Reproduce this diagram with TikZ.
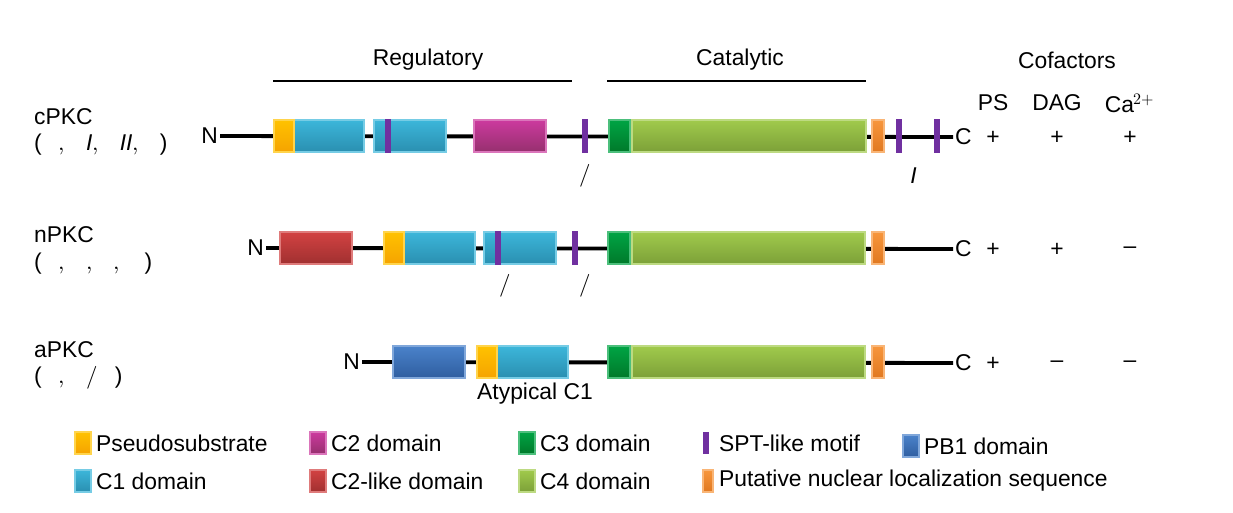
\documentclass[tikz,border=0pt]{standalone}
\usepackage{fontspec}
\setmainfont{Liberation Sans}
\usepackage{unicode-math}
\setmathfont{Latin Modern Math}
\definecolor{ylw}{HTML}{FFC200}\definecolor{ylwd}{HTML}{F5A300}
\definecolor{cone}{HTML}{3CB6DA}\definecolor{coned}{HTML}{2A8FB0}
\definecolor{ctwo}{HTML}{CC3A9E}\definecolor{ctwod}{HTML}{96306E}
\definecolor{cthr}{HTML}{00A444}\definecolor{cthrd}{HTML}{00792A}
\definecolor{cfour}{HTML}{A0CA4C}\definecolor{cfourd}{HTML}{7CA038}
\definecolor{org}{HTML}{F7963C}\definecolor{orgd}{HTML}{E07820}
\definecolor{rd}{HTML}{D24242}\definecolor{rdd}{HTML}{A03030}
\definecolor{pb}{HTML}{4A82CA}\definecolor{pbd}{HTML}{2F5EA0}
\definecolor{purp}{HTML}{7030A0}
\tikzset{
 txt/.style={font=\fontsize{13}{15}\selectfont},
 Y/.style={top color=ylw,bottom color=ylwd,draw=ylw!70!white},
 C1/.style={top color=cone,bottom color=coned,draw=cone!70!white},
 C2/.style={top color=ctwo,bottom color=ctwod,draw=ctwo!70!white},
 C3/.style={top color=cthr,bottom color=cthrd,draw=cthr!70!white},
 C4/.style={top color=cfour,bottom color=cfourd,draw=cfour!70!white},
 O/.style={top color=org,bottom color=orgd,draw=org!70!white},
 R/.style={top color=rd,bottom color=rdd,draw=rd!70!white},
 P/.style={top color=pb,bottom color=pbd,draw=pb!70!white},
 bb/.style={line width=1.2pt},
 spt/.style={draw=purp,line width=3.5pt},
 bk/.style={line width=2.2pt},
}
\newcommand{\dom}[4]{\draw[#1,bb] (#2,#4-16) rectangle (#3,#4+16);}
\newcommand{\mot}[2]{\draw[spt] (#1,#2-17) -- (#1,#2+17);}
\begin{document}
\begin{tikzpicture}[x=0.02cm,y=-0.02cm]
\useasboundingbox (0,0) rectangle (1233,512);
% headers
\node[txt] (reg) at (428,60) {Regulatory};
\node[txt] (cat) at (740,60) {Catalytic};
\node[txt] (cof) at (1067,60) {Cofactors};
\draw[line width=1.2pt] (273,81) -- (572,81);
\draw[line width=1.2pt] (607,81) -- (866,81);
\node[txt] (ps) at (993,103) {PS};
\node[txt] (dag) at (1057,103) {DAG};
\node[txt] (ca) at (1130,103) {Ca$^{2+}$};
% row labels
\node[txt,anchor=west] (l1) at (28,117) {cPKC};
\node[txt,anchor=west] (l1b) at (28,145) {($\mathit{\alpha}, \mathit{\beta I}, \mathit{\beta II}, \mathit{\gamma}$)};
\node[txt,anchor=west] (l2) at (28,235) {nPKC};
\node[txt,anchor=west] (l2b) at (28,264) {($\mathit{\delta}, \mathit{\theta}, \mathit{\varepsilon},\, \mathit{\eta}$)};
\node[txt,anchor=west] (l3) at (28,350) {aPKC};
\node[txt,anchor=west] (l3b) at (28,378) {($\mathit{\zeta}, \mathit{\lambda}/\mathit{\iota}$)};
% row 1
\node[txt,anchor=east,inner sep=1pt] (n1) at (220,136) {N};
\node[txt,anchor=west,inner sep=1pt] (c1) at (953,137) {C};
\draw[bk] (n1.east) -- (c1.west);
\dom{C1}{294}{364}{136}\dom{Y}{274}{294}{136}
\dom{C1}{374}{446}{136}\mot{388}{136}
\dom{C2}{474}{546}{136}\mot{585}{136}
\dom{C3}{609}{630}{136}\dom{C4}{632}{866}{136}
\dom{O}{872}{884}{136}\mot{899}{136}\mot{937}{136}
\node[txt] (a1) at (585,176) {$\mathit{\alpha}/\mathit{\gamma}$};
\node[txt] (a2) at (905,176) {$\mathit{\beta I}$};
\node[txt] (a3) at (940,176) {$\mathit{\gamma}$};
\node[txt] at (993,138) {+};\node[txt] at (1057,138) {+};\node[txt] at (1130,138) {+};
% row 2
\node[txt,anchor=east,inner sep=1pt] (n2) at (266,248) {N};
\node[txt,anchor=west,inner sep=1pt] (c2) at (953,249) {C};
\draw[bk] (n2.east) -- (c2.west);
\dom{R}{280}{352}{248}
\dom{C1}{404}{475}{248}\dom{Y}{384}{404}{248}
\dom{C1}{484}{556}{248}\mot{498}{248}\mot{575}{248}
\dom{C3}{608}{630}{248}\dom{C4}{632}{865}{248}
\dom{O}{872}{884}{248}
\node[txt] (b1) at (505,286) {$\mathit{\delta}/\mathit{\theta}$};
\node[txt] (b2) at (585,286) {$\mathit{\varepsilon}/\mathit{\eta}$};
\node[txt] at (993,250) {+};\node[txt] at (1057,250) {+};\node[txt] at (1130,250) {--};
% row 3
\node[txt,anchor=east,inner sep=1pt] (n3) at (362,362) {N};
\node[txt,anchor=west,inner sep=1pt] (c3) at (953,363) {C};
\draw[bk] (n3.east) -- (c3.west);
\dom{P}{393}{465}{362}
\dom{C1}{497}{568}{362}\dom{Y}{477}{497}{362}
\dom{C3}{608}{630}{362}\dom{C4}{632}{865}{362}
\dom{O}{872}{884}{362}
\node[txt] (at) at (535,394) {Atypical C1};
\node[txt] at (993,364) {+};\node[txt] at (1057,364) {--};\node[txt] at (1130,364) {--};
% legend
\newcommand{\lsq}[4]{\draw[#1,bb] (#2,#3-11) rectangle (#2+16,#3+11);\node[txt,anchor=west,inner sep=1pt] at (#2+19,#3) {#4};}
\lsq{Y}{75}{443}{Pseudosubstrate}
\lsq{C2}{310}{443}{C2 domain}
\lsq{C3}{519}{443}{C3 domain}
\draw[spt] (706,432) -- (706,454); \node[txt,anchor=west,inner sep=1pt] at (717,443) {SPT-like motif};
\lsq{P}{903}{446}{PB1 domain}
\lsq{C1}{75}{481}{C1 domain}
\lsq{R}{310}{481}{C2-like domain}
\lsq{C4}{519}{481}{C4 domain}
\draw[O,bb] (703,470) rectangle (713,492); \node[txt,anchor=west,inner sep=1pt] at (717,481) {Putative nuclear localization sequence};
\end{tikzpicture}
\end{document}
